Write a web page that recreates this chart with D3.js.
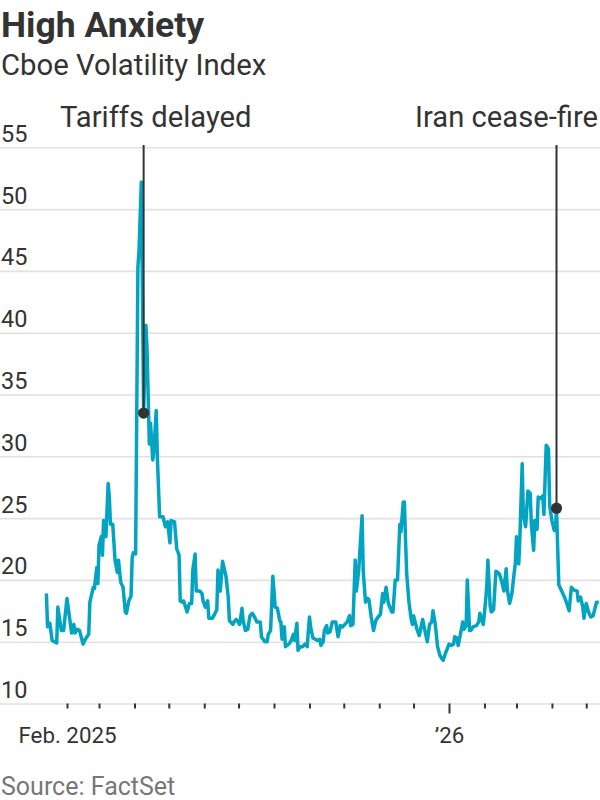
<!DOCTYPE html>
<html>
<head>
<meta charset="utf-8">
<script src="https://cdn.jsdelivr.net/npm/d3@7"></script>
<style>
  html, body { margin: 0; padding: 0; background: #fff; }
  svg { display: block; font-family: Roboto, "Noto Sans", sans-serif; }
</style>
</head>
<body>
<svg id="chart" width="600" height="800"></svg>
<script>
// ---- Data ----
const title = "High Anxiety";
const subtitle = "Cboe Volatility Index";
const source = "Source: FactSet";

const dates = [
"2025-01-14","2025-01-15","2025-01-17","2025-01-19","2025-01-23","2025-01-24","2025-01-27","2025-01-29",
"2025-02-01","2025-02-02","2025-02-05","2025-02-07","2025-02-08","2025-02-10","2025-02-12","2025-02-15",
"2025-02-17","2025-02-20","2025-02-21","2025-02-23","2025-02-24","2025-02-25","2025-02-27","2025-02-28",
"2025-03-01","2025-03-03","2025-03-04","2025-03-05","2025-03-07","2025-03-09","2025-03-10","2025-03-11",
"2025-03-13","2025-03-15","2025-03-17","2025-03-18","2025-03-20","2025-03-22","2025-03-24","2025-03-25",
"2025-03-27","2025-03-29","2025-03-30","2025-03-31","2025-04-02","2025-04-04","2025-04-05","2025-04-07",
"2025-04-09","2025-04-11","2025-04-12","2025-04-14","2025-04-15","2025-04-17","2025-04-18","2025-04-20",
"2025-04-21","2025-04-23","2025-04-26","2025-04-28","2025-04-30","2025-05-02","2025-05-03","2025-05-06",
"2025-05-08","2025-05-10","2025-05-11","2025-05-13","2025-05-14","2025-05-17","2025-05-19","2025-05-21",
"2025-05-22","2025-05-24","2025-05-25","2025-05-28","2025-05-30","2025-05-31","2025-06-02","2025-06-04",
"2025-06-05","2025-06-08","2025-06-10","2025-06-12","2025-06-13","2025-06-15","2025-06-17","2025-06-19",
"2025-06-20","2025-06-22","2025-06-23","2025-06-26","2025-06-27","2025-06-29","2025-07-02","2025-07-04",
"2025-07-05","2025-07-07","2025-07-09","2025-07-11","2025-07-13","2025-07-15","2025-07-17","2025-07-20",
"2025-07-21","2025-07-24","2025-07-26","2025-07-27","2025-07-29","2025-07-31","2025-08-02","2025-08-04",
"2025-08-06","2025-08-07","2025-08-08","2025-08-10","2025-08-11","2025-08-14","2025-08-16","2025-08-18",
"2025-08-19","2025-08-21","2025-08-22","2025-08-24","2025-08-26","2025-08-28","2025-08-30","2025-09-01",
"2025-09-02","2025-09-04","2025-09-06","2025-09-08","2025-09-10","2025-09-11","2025-09-13","2025-09-14",
"2025-09-16","2025-09-17","2025-09-19","2025-09-21","2025-09-24","2025-09-26","2025-09-28","2025-09-30",
"2025-10-03","2025-10-04","2025-10-06","2025-10-07","2025-10-09","2025-10-11","2025-10-12","2025-10-14",
"2025-10-17","2025-10-18","2025-10-20","2025-10-22","2025-10-23","2025-10-25","2025-10-27","2025-10-29",
"2025-10-31","2025-11-02","2025-11-04","2025-11-05","2025-11-07","2025-11-09","2025-11-12","2025-11-13",
"2025-11-15","2025-11-17","2025-11-19","2025-11-20","2025-11-22","2025-11-23","2025-11-24","2025-11-25",
"2025-11-27","2025-11-29","2025-11-30","2025-12-01","2025-12-03","2025-12-04","2025-12-06","2025-12-09",
"2025-12-10","2025-12-13","2025-12-15","2025-12-17","2025-12-18","2025-12-20","2025-12-22","2025-12-24",
"2025-12-26","2025-12-27","2025-12-29","2025-12-30","2026-01-01","2026-01-03","2026-01-05","2026-01-06",
"2026-01-08","2026-01-09","2026-01-11","2026-01-13","2026-01-14","2026-01-16","2026-01-17","2026-01-19",
"2026-01-20","2026-01-22","2026-01-25","2026-01-27","2026-01-28","2026-01-30","2026-01-31","2026-02-02",
"2026-02-03","2026-02-04","2026-02-06","2026-02-07","2026-02-09","2026-02-11","2026-02-14","2026-02-16",
"2026-02-18","2026-02-20","2026-02-21","2026-02-23","2026-02-25","2026-02-27","2026-02-28","2026-03-01",
"2026-03-03","2026-03-04","2026-03-06","2026-03-07","2026-03-09","2026-03-11","2026-03-13","2026-03-14",
"2026-03-16","2026-03-17","2026-03-19","2026-03-20","2026-03-22","2026-03-24","2026-03-25","2026-03-27",
"2026-03-29","2026-03-30","2026-04-01","2026-04-03","2026-04-04","2026-04-05","2026-04-07","2026-04-09",
"2026-04-12","2026-04-14","2026-04-16","2026-04-18","2026-04-20","2026-04-23","2026-04-24","2026-04-26",
"2026-04-28","2026-04-29","2026-05-01","2026-05-03","2026-05-05","2026-05-07","2026-05-10","2026-05-12"
];

const vix = [
18.9,16.2,16.5,15.1,14.9,17.8,15.9,15.9,
18.5,17.8,15.7,16.4,15.7,16.0,15.9,14.8,
15.2,15.6,18.2,19.0,19.4,19.3,21.0,19.7,
22.8,23.5,22.0,24.8,23.5,27.8,26.7,24.5,
24.5,21.6,20.6,21.6,19.8,19.4,17.4,17.3,
18.3,18.7,21.8,22.2,22.1,45.3,46.7,52.2,
33.5,40.6,38.6,31.0,32.7,29.7,30.5,33.7,
29.9,25.1,25.1,24.3,24.7,23.0,24.8,24.7,
22.5,22.0,18.3,18.2,18.3,17.4,18.1,18.1,
20.8,22.1,19.1,19.1,18.9,18.3,17.8,18.3,
16.9,16.9,17.2,17.6,20.8,19.1,21.5,20.7,
20.3,18.6,16.7,16.4,16.6,16.8,16.4,17.7,
16.7,15.9,16.0,17.1,17.3,17.0,16.6,16.6,
15.4,15.0,15.0,15.6,15.9,20.3,17.8,17.7,
16.7,16.6,15.2,16.2,14.6,14.8,15.1,15.6,
15.1,16.5,14.3,14.6,14.6,14.8,14.6,17.0,
16.2,15.3,15.2,15.1,15.2,14.7,15.0,15.9,
16.3,15.7,15.8,16.6,16.6,15.4,16.3,16.2,
16.5,16.6,17.1,16.3,16.4,21.6,19.1,20.7,
25.2,20.7,18.2,18.5,18.4,17.0,15.9,16.7,
17.0,17.2,18.9,18.2,19.4,18.1,17.4,17.4,
20.0,20.0,24.5,23.9,26.3,26.3,23.2,20.5,
18.2,16.8,16.4,17.1,16.4,16.0,15.5,16.8,
16.3,15.0,16.4,16.6,17.5,16.4,14.6,13.9,
13.6,13.5,14.1,14.3,14.8,14.7,14.8,15.4,
15.3,14.7,15.6,16.6,16.0,16.3,20.0,15.9,
15.9,16.2,16.3,16.6,17.3,16.7,16.4,18.3,
19.4,21.6,17.9,17.4,17.6,20.7,20.5,19.9,
19.1,20.9,19.2,18.1,18.9,20.6,21.3,23.5,
21.3,23.5,29.4,25.2,24.3,27.2,27.0,24.5,
22.4,24.8,24.1,26.7,26.6,26.8,25.3,30.9,
30.6,26.0,24.8,24.0,24.0,25.8,19.6,19.2,
18.6,18.1,17.5,19.4,19.2,19.1,18.3,18.6,
17.8,16.9,18.1,17.4,17.0,17.1,18.2,18.2
];

const yTicks = [10, 15, 20, 25, 30, 35, 40, 45, 50, 55];
const xTickLabels = [["2025-02-01", "Feb. 2025"], ["2026-01-01", "\u201926"]];

const annotationLabels = ["Tariffs delayed", "Iran cease-fire"];
const annotationDates = ["2025-04-09", "2026-04-05"];

// ---- Chart ----
const parse = d3.utcParse("%Y-%m-%d");
const data = dates.map((d, i) => ({ date: parse(d), value: vix[i] }));

const W = 600;
const svg = d3.select("#chart");

const x = d3.scaleUtc()
  .domain([parse("2025-02-01"), parse("2026-01-01")])
  .range([67, 449]);
const y = d3.scaleLinear().domain([10, 55]).range([703.5, 147.3]);

// title & subtitle
svg.append("text").attr("x", 1).attr("y", 37)
  .attr("font-size", 35.5).attr("font-weight", 700).attr("fill", "#333")
  .text(title);
svg.append("text").attr("x", 1).attr("y", 75)
  .attr("font-size", 29.3).attr("fill", "#333")
  .text(subtitle);

// y grid + labels
const yAxis = d3.axisRight(y).tickValues(yTicks).tickSize(W).tickFormat(d3.format("d"));
const gy = svg.append("g").call(yAxis);
gy.select(".domain").remove();
gy.selectAll(".tick line").attr("stroke", "#e1e1e1").attr("stroke-width", 1.6);
gy.selectAll(".tick text")
  .attr("x", 1).attr("dy", null).attr("y", -6)
  .attr("text-anchor", "start")
  .attr("font-size", 23.5).attr("fill", "#333")
  .style("font-family", "Roboto, sans-serif");

// x axis
const months = d3.utcMonth.range(parse("2025-02-01"), parse("2026-05-02"));
const labelMap = new Map(xTickLabels.map(([d, l]) => [parse(d).getTime(), l]));
const xAxis = d3.axisBottom(x).tickValues(months).tickSize(5)
  .tickFormat(d => labelMap.get(d.getTime()) || "");
const gx = svg.append("g").attr("transform", "translate(0,703.5)").call(xAxis);
gx.select(".domain").remove();
gx.selectAll(".tick line").attr("stroke", "#333").attr("stroke-width", 2)
  .attr("y2", d => d.getUTCMonth() === 0 ? 10 : 5);
gx.selectAll(".tick text")
  .attr("y", 39.5).attr("dy", null)
  .attr("font-size", 22.3).attr("fill", "#333")
  .style("font-family", "Roboto, sans-serif");

// line
const line = d3.line().x(d => x(d.date)).y(d => y(d.value));
svg.append("path").datum(data)
  .attr("fill", "none").attr("stroke", "#03a4c1")
  .attr("stroke-width", 3.5).attr("stroke-linejoin", "round")
  .attr("d", line);

// annotations
const labelX = [60, 415];
annotationDates.forEach((ds, i) => {
  const dt = parse(ds);
  const pt = data.find(d => d.date.getTime() === dt.getTime());
  const ax = x(dt);
  svg.append("line")
    .attr("x1", ax).attr("x2", ax)
    .attr("y1", 145).attr("y2", y(pt.value))
    .attr("stroke", "#333").attr("stroke-width", 2);
  svg.append("circle").attr("cx", ax).attr("cy", y(pt.value)).attr("r", 5.6)
    .attr("fill", "#333");
  svg.append("text").attr("x", labelX[i]).attr("y", 127)
    .attr("font-size", 29.2).attr("fill", "#333")
    .text(annotationLabels[i]);
});

// source
svg.append("text").attr("x", 1).attr("y", 795)
  .attr("font-size", 25).attr("fill", "#777")
  .text(source);
</script>
</body>
</html>
